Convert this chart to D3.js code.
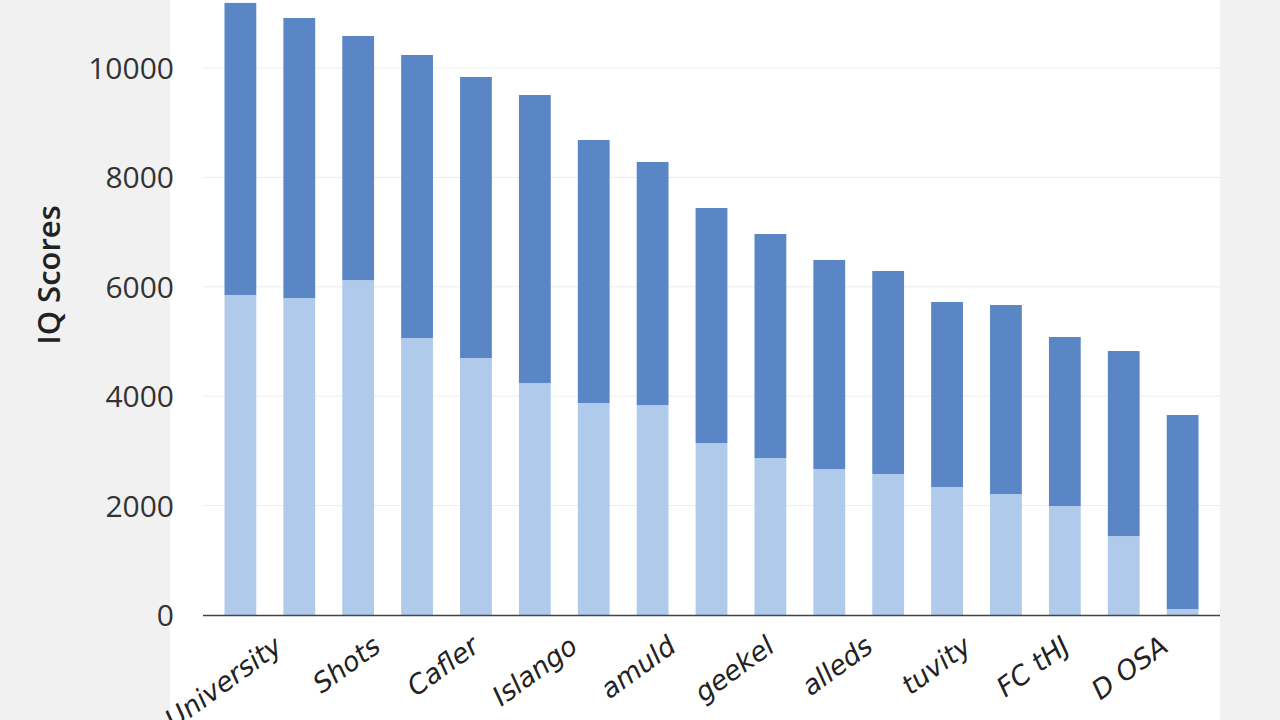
<!DOCTYPE html>
<html><head><meta charset="utf-8">
<script src="https://cdn.jsdelivr.net/npm/d3@7"></script>
<style>body{margin:0;background:#f1f1f1;}</style>
</head><body><div id="chart"></div>
<script>
var lower = [5850, 5795, 6124, 5064, 4698, 4241, 3876, 3839, 3144, 2870, 2669, 2578, 2340, 2212, 1993, 1444, 110];
var total = [11190, 10914, 10585, 10238, 9835, 9506, 8684, 8282, 7441, 6965, 6490, 6289, 5722, 5667, 5082, 4826, 3656];
var upper = [5340, 5119, 4461, 5174, 5137, 5265, 4808, 4443, 4297, 4095, 3821, 3711, 3382, 3455, 3089, 3382, 3546];
var labels = ["University", "Shots", "Cafler", "Islango", "amuld", "geekel", "alleds", "tuvity", "FC tHJ", "D OSA"];
var yTicks = [0, 2000, 4000, 6000, 8000, 10000];

var width = 1280, height = 720;
var svg = d3.select('#chart').append('svg')
    .attr('width', width).attr('height', height);

svg.append('rect').attr('x', 170).attr('y', 0).attr('width', 1050).attr('height', 720).attr('fill', '#fff');

var x = d3.scaleBand().domain(d3.range(lower.length)).range([208, 1215]).paddingInner(0.46).paddingOuter(0.28);
var y = d3.scaleLinear().domain([0, 10000]).range([615, 68]);

svg.selectAll('.grid').data(yTicks.slice(1)).enter().append('line')
    .attr('x1', 203).attr('x2', 1220)
    .attr('y1', function(d) { return y(d); }).attr('y2', function(d) { return y(d); })
    .attr('stroke', '#ececec');

svg.selectAll('.low').data(lower).enter().append('rect')
    .attr('x', function(d, i) { return x(i); })
    .attr('width', x.bandwidth())
    .attr('y', function(d) { return y(d); })
    .attr('height', function(d) { return y(0) - y(d); })
    .attr('fill', '#afcaea');

svg.selectAll('.up').data(upper).enter().append('rect')
    .attr('x', function(d, i) { return x(i); })
    .attr('width', x.bandwidth())
    .attr('y', function(d, i) { return y(lower[i] + d); })
    .attr('height', function(d) { return y(0) - y(d); })
    .attr('fill', '#5a86c6');

svg.append('line').attr('x1', 203).attr('x2', 1220).attr('y1', 615.5).attr('y2', 615.5)
    .attr('stroke', '#444').attr('stroke-width', 1.5);

svg.selectAll('.yt').data(yTicks).enter().append('text')
    .attr('x', 174).attr('y', function(d) { return y(d) + 11; })
    .attr('text-anchor', 'end')
    .style('font-family', 'Open Sans, sans-serif').style('font-size', '30px').style('fill', '#333')
    .text(function(d) { return d; });

svg.append('text')
    .attr('transform', 'translate(60,275) rotate(-90)')
    .attr('text-anchor', 'middle')
    .style('font-family', 'Open Sans, sans-serif').style('font-size', '31px').style('font-weight', '600').style('fill', '#222')
    .text('IQ Scores');

var lx = d3.scalePoint().domain(labels).range([284, 1170]);
svg.selectAll('.xl').data(labels).enter().append('text')
    .attr('transform', function(d) { return 'translate(' + lx(d) + ',650) rotate(-36)'; })
    .attr('text-anchor', 'end')
    .style('font-family', 'DejaVu Sans, sans-serif').style('font-style', 'italic')
    .style('font-size', '27px').style('fill', '#222')
    .text(function(d) { return d; });
</script>
</body></html>
